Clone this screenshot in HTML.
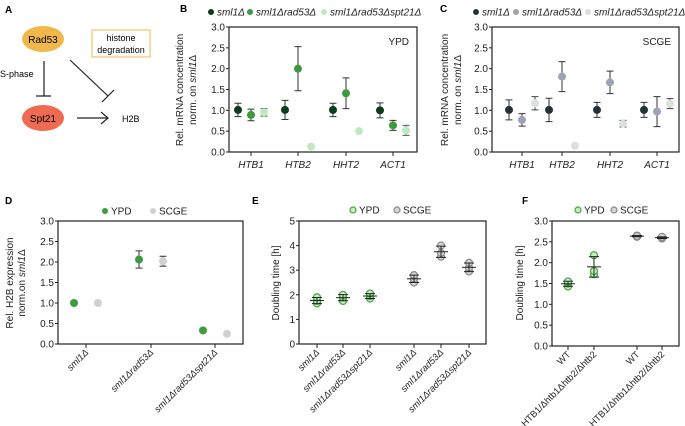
<!DOCTYPE html>
<html><head><meta charset="utf-8"><style>
html,body{margin:0;padding:0;background:#fff;}
svg{display:block;font-family:"Liberation Sans",Arial,sans-serif;}
</style></head><body>
<svg id="fig" width="685" height="426" viewBox="0 0 685 426" xmlns="http://www.w3.org/2000/svg">
<g>
<text x="5" y="13" font-size="10" font-weight="bold">A</text>
<ellipse cx="43" cy="39" rx="21" ry="13" fill="#f0b84a"/>
<text x="43" y="43" font-size="10" text-anchor="middle">Rad53</text>
<ellipse cx="43" cy="118" rx="21" ry="13" fill="#ee6a50"/>
<text x="43" y="122" font-size="10" text-anchor="middle">Spt21</text>
<rect x="92" y="30" width="58" height="27" fill="none" stroke="#f0b84a" stroke-width="1"/>
<text x="121" y="41" font-size="9" text-anchor="middle">histone</text>
<text x="121" y="53" font-size="9" text-anchor="middle">degradation</text>
<text x="0" y="77" font-size="9">S-phase</text>
<path d="M44 61V96M36 96H51" stroke="#222" stroke-width="1.2" fill="none"/>
<path d="M70 60L108 96M102 102L114 90" stroke="#222" stroke-width="1.2" fill="none"/>
<path d="M77 118H108M101 112L108 118L101 124" stroke="#222" stroke-width="1.2" fill="none"/>
<text x="122" y="122" font-size="9">H2B</text>
</g>
<text x="180" y="12" font-size="10" font-weight="bold">B</text>
<text x="440" y="12" font-size="10" font-weight="bold">C</text>
<text x="5" y="204" font-size="10" font-weight="bold">D</text>
<text x="252" y="204" font-size="10" font-weight="bold">E</text>
<text x="522" y="204" font-size="10" font-weight="bold">F</text>
</svg>
<script>
const genes = ["HTB1","HTB2","HHT2","ACT1"];
const bSml1 = [1.01,1.01,1.01,1.0];
const bSml1Err = [0.16,0.23,0.16,0.18];
const bRad53 = [0.89,2.0,1.41,0.64];
const bRad53Err = [0.14,0.53,0.37,0.12];
const bSpt21 = [0.95,0.13,0.5,0.52];
const bSpt21Err = [0.09,0.02,0.03,0.12];
const cSml1 = [1.01,1.01,1.01,1.01];
const cSml1Err = [0.24,0.28,0.18,0.18];
const cRad53 = [0.77,1.81,1.67,0.97];
const cRad53Err = [0.15,0.36,0.27,0.36];
const cSpt21 = [1.17,0.15,0.68,1.16];
const cSpt21Err = [0.16,0.02,0.08,0.12];
const ticks03 = [0,0.5,1.0,1.5,2.0,2.5,3.0];
const strainsD = ["sml1\u0394","sml1\u0394rad53\u0394","sml1\u0394rad53\u0394spt21\u0394"];
const dYPD = [1.0,2.06,0.33];
const dYPDErr = [0,0.21,0.02];
const dSCGE = [1.0,2.02,0.25];
const dSCGEErr = [0,0.12,0.03];
const eYPDReps = [[1.65,1.75,1.9],[1.75,1.9,2.0],[1.85,1.95,2.05]];
const eSCGEReps = [[2.5,2.65,2.8],[3.55,3.7,4.0],[2.95,3.1,3.3]];
const ticks05 = [0,1,2,3,4,5];
const strainsF = ["WT","HTB1/\u0394htb1\u0394htb2/\u0394htb2"];
const fYPDReps = [[1.43,1.5,1.55],[1.72,1.8,2.18]];
const fSCGEReps = [[2.62,2.65,2.64],[2.58,2.6,2.62]];

const NS="http://www.w3.org/2000/svg";
const svg=document.getElementById('fig');
const FS=10;
function mk(tag,attrs,parent){const e=document.createElementNS(NS,tag);for(const k in attrs)e.setAttribute(k,attrs[k]);(parent||svg).appendChild(e);return e;}
function fmt(v,dec){return v.toFixed(dec);}
function frame(g,x0,x1,yTop,yBot,ticks,ymax,dec){
  const ys=v=>yBot-(v/ymax)*(yBot-yTop);
  const r=mk('rect',{x:x0,y:yTop,width:x1-x0,height:yBot-yTop,fill:'none',stroke:'#222','stroke-width':1.2},g);
  
  
  ticks.forEach(t=>{
    const l=mk('line',{x1:x0-3,x2:x0,y1:ys(t),y2:ys(t),stroke:'#222'},g);
    
    
    const tx=mk('text',{x:x0-4,y:ys(t)+3.5,'font-size':FS,'text-anchor':'end',fill:'#222'},g);
    tx.textContent=fmt(t,dec);
    
    
  });
  return ys;
}
function errbar(g,x,ys,lo,hi,col,cap){
  const p=mk('path',{d:`M${x} ${ys(lo)}V${ys(hi)}M${x-cap} ${ys(lo)}H${x+cap}M${x-cap} ${ys(hi)}H${x+cap}`,stroke:col||'#333','stroke-width':1,fill:'none'},g);
  
  
}
function dot(g,x,y,r,fill,stroke,name){
  const c=mk('circle',{cx:x,cy:y,r:r,fill:fill,stroke:stroke||'none','stroke-width':1.2},g);
  
  
}
function ytitle(g,x,y,lines,sp){
  lines.forEach((ln,i)=>{
    const t=mk('text',{x:0,y:0,'font-size':FS,'text-anchor':'middle',fill:'#222',transform:`translate(${x+i*(sp||13)},${y}) rotate(-90)`},g);
    t.innerHTML=ln;
    
    
  });
}
function legendItem(g,x,y,fill,stroke,label,italic){
  dot(g,x,y,3,fill,stroke,'legend-marker');
  const t=mk('text',{x:x+6,y:y+3.5,'font-size':FS,'font-style':italic?'italic':'normal',fill:'#222'},g);
  t.textContent=label;
  
  
}

function geneplot(name,x0,x1,centers,off,series,cols,errcols,tag,legendX){
  const g=mk('g',{});
  
  
  const ys=frame(g,x0,x1,27,152,ticks03,3,1);
  genes.forEach((gn,i)=>{
    const l=mk('line',{x1:centers[i],x2:centers[i],y1:152,y2:156,stroke:'#222'},g);
    
    
    const t=mk('text',{x:centers[i],y:168,'font-size':FS,'font-style':'italic','text-anchor':'middle',fill:'#222'},g);
    t.textContent=gn;
    
    
  });
  series.forEach((s,si)=>{
    s.v.forEach((v,i)=>{
      const x=centers[i]+(si-1)*off;
      errbar(g,x,ys,v-s.e[i],v+s.e[i],errcols[si],3.5);
      dot(g,x,ys(v),4,cols[si],null,'point-'+s.n+'-'+genes[i].toLowerCase());
    });
  });
  const t=mk('text',{x:x1-8,y:45,'font-size':FS,'text-anchor':'end',fill:'#222'},g);
  t.textContent=tag;
  
  
  const labs=["sml1\u0394","sml1\u0394rad53\u0394","sml1\u0394rad53\u0394spt21\u0394"];
  legendX.forEach((lx,i)=>legendItem(g,lx,12,cols[i],null,labs[i],true));
  return g;
}
const gB=geneplot('panel-b-chart',229,417,[251,298,346,393],13,
 [{n:'sml1',v:bSml1,e:bSml1Err},{n:'rad53',v:bRad53,e:bRad53Err},{n:'spt21',v:bSpt21,e:bSpt21Err}],
 ['#0e3b1c','#3d9a3f','#bfe8bd'],['#333','#333','#555'],'YPD',[211,250,324]);
ytitle(gB,183,90,['Rel. mRNA concentration','norm. on <tspan font-style="italic">sml1</tspan>\u0394']);
const gC=geneplot('panel-c-chart',492,679,[522,562,610,657],13,
 [{n:'sml1',v:cSml1,e:cSml1Err},{n:'rad53',v:cRad53,e:cRad53Err},{n:'spt21',v:cSpt21,e:cSpt21Err}],
 ['#253238','#9ea2b4','#d9e1da'],['#333','#333','#444'],'SCGE',[476,516,588]);
ytitle(gC,448,90,['Rel. mRNA concentration','norm. on <tspan font-style="italic">sml1</tspan>\u0394']);

function rotLabels(g,centers,labels,yBot,italicAll){
  centers.forEach((c,i)=>{
    const l=mk('line',{x1:c,x2:c,y1:yBot,y2:yBot+4,stroke:'#222'},g);
    
    
    const t=mk('text',{x:0,y:0,'font-size':9.3,'font-style':italicAll?'italic':'normal','text-anchor':'end',fill:'#222',transform:`translate(${c+3},${yBot+9}) rotate(-45)`},g);
    t.textContent=labels[i];
    
    
  });
}
(function(){
  const g=mk('g',{});
  
  
  const ys=frame(g,58,243,221,344,ticks03,3,1);
  const centers=[86,151,215];
  rotLabels(g,centers,strainsD,344,true);
  centers.forEach((c,i)=>{
    if(dYPDErr[i]>0)errbar(g,c-12,ys,dYPD[i]-dYPDErr[i],dYPD[i]+dYPDErr[i],'#333',3.5);
    dot(g,c-12,ys(dYPD[i]),4,'#3d9a3f',null,'point-ypd');
    if(dSCGEErr[i]>0)errbar(g,c+12,ys,dSCGE[i]-dSCGEErr[i],dSCGE[i]+dSCGEErr[i],'#333',3.5);
    dot(g,c+12,ys(dSCGE[i]),4,'#d0d0d0',null,'point-scge');
  });
  legendItem(g,105,211,'#3d9a3f',null,'YPD',false);
  legendItem(g,153,211,'#d0d0d0',null,'SCGE',false);
  ytitle(g,13,283,['Rel. H2B expression','norm.on <tspan font-style="italic">sml1</tspan>\u0394'],12);
})();
function mean(a){return a.reduce((s,v)=>s+v,0)/a.length;}
function sd(a){const m=mean(a);return Math.sqrt(a.reduce((s,v)=>s+(v-m)*(v-m),0)/(a.length-1));}
function repPlot(g,x,ys,reps,fill,stroke){
  reps.forEach(v=>dot(g,x,ys(v),3.5,fill,stroke,'replicate-point'));
  const m=mean(reps),s=sd(reps);
  errbar(g,x,ys,m-s,m+s,'#222',5);
  const l=mk('line',{x1:x-7,x2:x+7,y1:ys(m),y2:ys(m),stroke:'#222','stroke-width':1},g);
  
  
}
(function(){
  const g=mk('g',{});
  
  
  const ys=frame(g,299,486,221,344,ticks05,5,0);
  const cy=[317,343,370],cs=[414,441,469];
  rotLabels(g,cy.concat(cs),strainsD.concat(strainsD),344,true);
  cy.forEach((c,i)=>repPlot(g,c,ys,eYPDReps[i],'#c8ecc4','#3daa3a'));
  cs.forEach((c,i)=>repPlot(g,c,ys,eSCGEReps[i],'#d6d6d6','#8a8a8a'));
  legendItem(g,353,210,'#c8ecc4','#3daa3a','YPD',false);
  legendItem(g,397,210,'#d6d6d6','#8a8a8a','SCGE',false);
  ytitle(g,279,283,['Doubling time [h]']);
})();
(function(){
  const g=mk('g',{});
  
  
  const ys=frame(g,552,679,221,346,ticks03,3,1);
  const cy=[568,594],cs=[637,662];
  rotLabels(g,cy.concat(cs),strainsF.concat(strainsF),346,false);
  cy.forEach((c,i)=>repPlot(g,c,ys,fYPDReps[i],'#c8ecc4','#3daa3a'));
  cs.forEach((c,i)=>repPlot(g,c,ys,fSCGEReps[i],'#d6d6d6','#8a8a8a'));
  legendItem(g,578,210,'#c8ecc4','#3daa3a','YPD',false);
  legendItem(g,614,210,'#d6d6d6','#8a8a8a','SCGE',false);
  ytitle(g,523,283,['Doubling time [h]']);
})();
</script>
</body></html>
